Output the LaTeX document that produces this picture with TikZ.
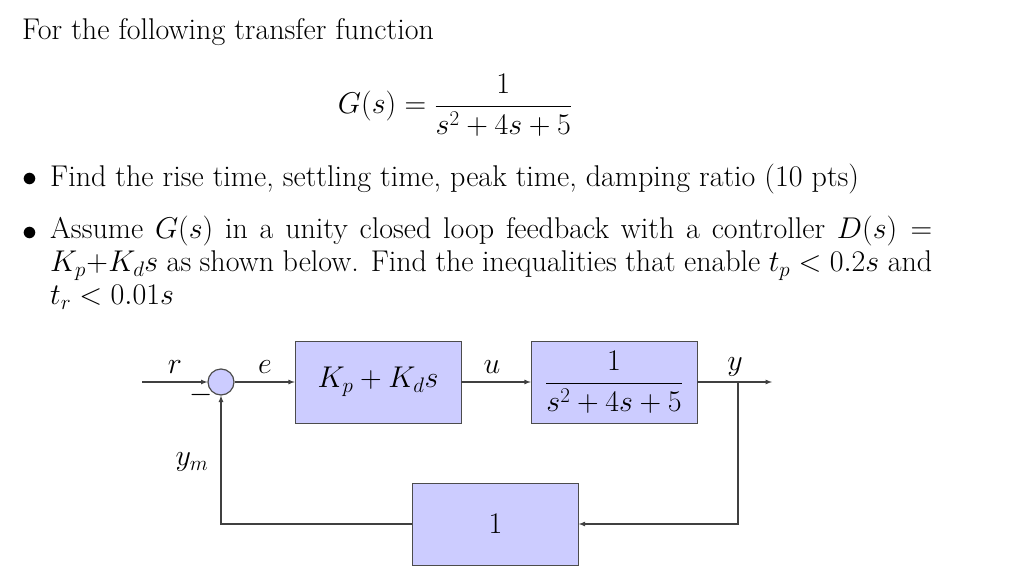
\RequirePackage{fix-cm}
\documentclass[tikz,border=0pt]{standalone}
\usepackage{amsmath}
\begin{document}
\begin{tikzpicture}[x=1pt,y=-1pt,>={latex[scale=1.6]},
  blk/.style={draw=black!70,fill={rgb,255:red,204;green,204;blue,255},minimum width=166pt,minimum height=82pt,inner sep=0pt},
  txt/.style={anchor=base west,inner sep=0pt},
  lbl/.style={inner sep=0pt},
  wire/.style={->,line width=1.2pt,black!75},
  every node/.style={font=\fontsize{30}{33}\selectfont}]
\useasboundingbox (0,0) rectangle (1024,583);
\node[txt] (t1) at (22,40) {For the following transfer function};
\node[lbl] (eq) at (455,105) {$G(s)=\dfrac{1}{s^2+4s+5}$};
\node[txt] (b1) at (22,186) {$\bullet$};
\node[txt] (l1) at (50,186) {Find the rise time, settling time, peak time, damping ratio (10 pts)};
\node[txt] (b2) at (22,240) {$\bullet$};
\node[anchor=north west,inner sep=0pt,text width=882pt,align=justify] (l2) at (50,216)
 {Assume $G(s)$ in a unity closed loop feedback with a controller $D(s)=$\linebreak $K_p\!+\!K_ds$ as shown below. Find the inequalities that enable $t_p<0.2s$ and\linebreak $t_r<0.01s$};
\node[draw=black!70,fill={rgb,255:red,204;green,204;blue,255},circle,minimum size=26pt,inner sep=0pt,line width=1.2pt] (s) at (221,382) {};
\node[blk] (c) at (378,382) {$K_p+K_ds$};
\node[blk] (p) at (614,382) {$\dfrac{1}{s^2+4s+5}$};
\node[blk] (f) at (495.5,524) {$1$};
\coordinate (in) at (142,382);
\coordinate (out) at (772,382);
\coordinate (br) at (738,382);
\draw[wire] (in) -- (s);
\draw[wire] (s) -- (c);
\draw[wire] (c) -- (p);
\draw[wire] (p) -- (out);
\draw[wire] (br) |- (f);
\draw[wire] (f) -| (s);
\node[lbl] (lr) at (175,367) {$r$};
\node[lbl] (le) at (265,367) {$e$};
\node[lbl] (lu) at (492,367) {$u$};
\node[lbl] (ly) at (735,367) {$y$};
\node[lbl] (lym) at (192,462) {$y_m$};
\node[lbl] (lm) at (201,395) {$-$};
\end{tikzpicture}
\end{document}
